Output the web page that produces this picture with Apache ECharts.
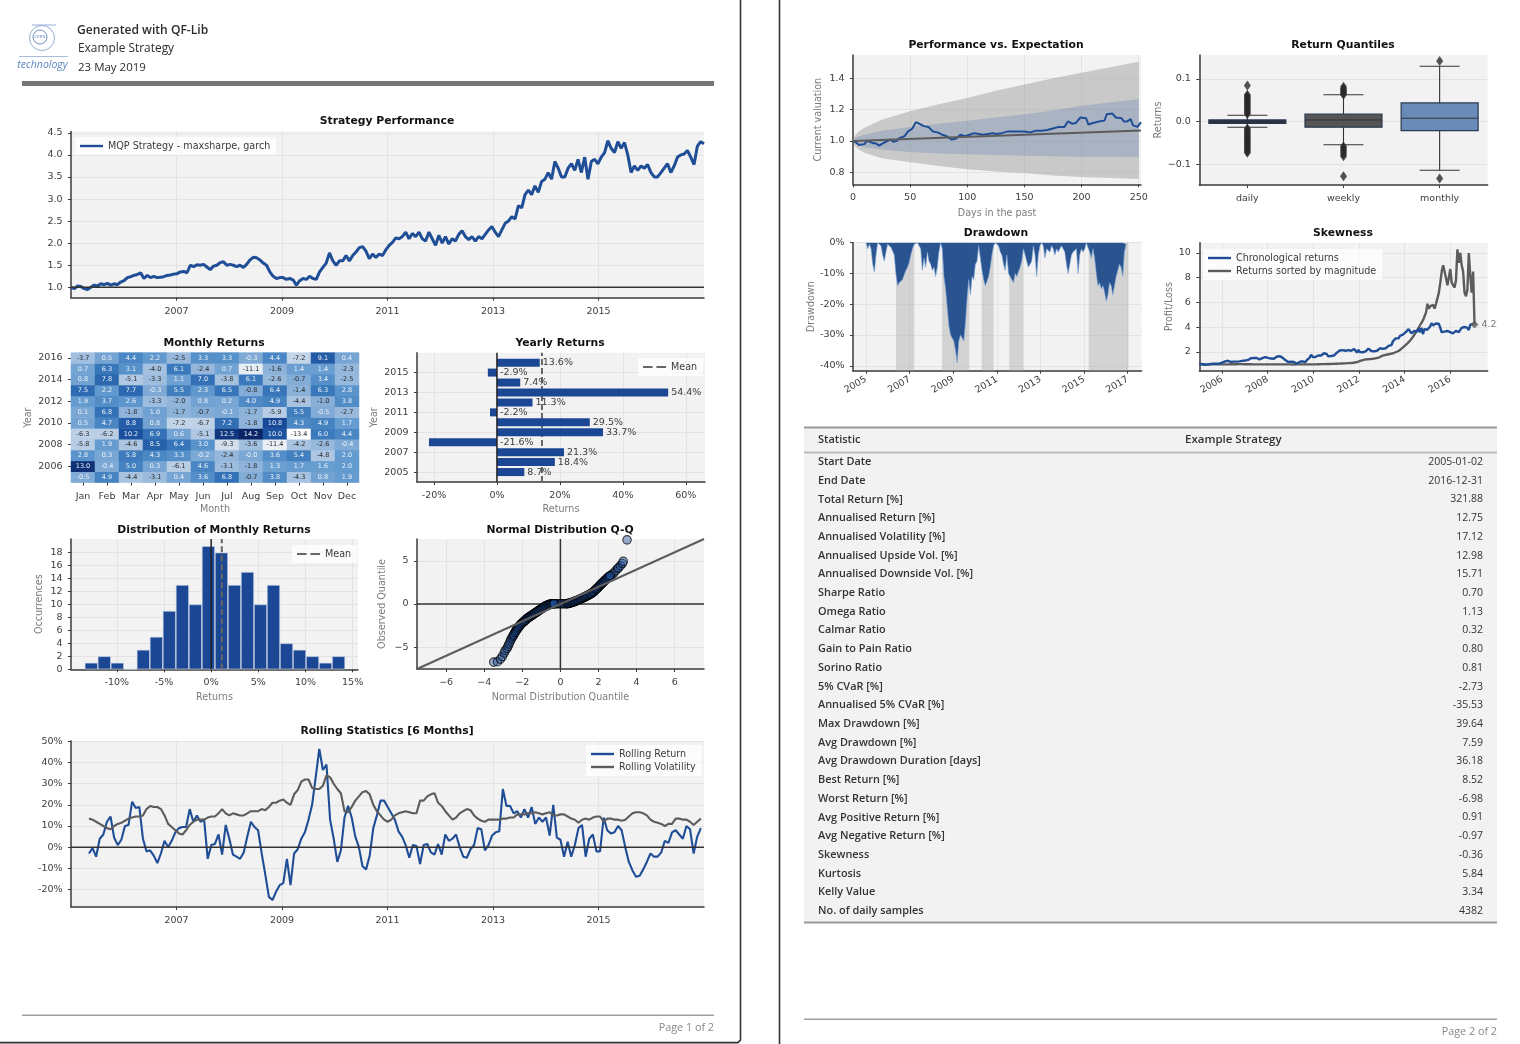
<!DOCTYPE html>
<html><head><meta charset="utf-8">
<style>html,body{margin:0;padding:0;background:#fff}#c{width:1520px;height:1044px;filter:blur(.45px)}</style>
<script src="https://cdn.jsdelivr.net/npm/echarts@6/dist/echarts.min.js"></script>
</head><body><div id="c"></div>
<script>
// ---------- DATA ----------
const strategyValues=[1.0,0.97,1.03,1.02,0.97,0.95,1.0,1.05,1.03,1.08,1.06,1.09,1.05,1.08,1.06,1.12,
1.15,1.22,1.24,1.27,1.29,1.33,1.20,1.27,1.22,1.25,1.22,1.23,1.24,1.27,1.28,1.30,
1.31,1.35,1.36,1.33,1.50,1.47,1.51,1.50,1.52,1.46,1.40,1.48,1.50,1.56,1.58,1.50,
1.52,1.50,1.47,1.50,1.45,1.52,1.62,1.68,1.67,1.62,1.55,1.50,1.35,1.25,1.20,1.22,
1.22,1.18,1.20,1.17,1.05,1.15,1.20,1.18,1.25,1.20,1.18,1.35,1.45,1.55,1.78,1.60,
1.50,1.60,1.60,1.72,1.60,1.72,1.80,1.90,1.92,1.82,1.65,1.75,1.68,1.75,1.72,1.85,
1.95,2.02,2.12,2.10,2.15,2.25,2.10,2.22,2.15,2.25,2.10,2.05,2.25,2.10,1.95,2.18,
2.00,2.15,1.98,2.10,2.05,2.20,2.28,2.15,2.08,2.15,2.05,2.15,2.10,2.20,2.30,2.38,
2.25,2.15,2.30,2.45,2.50,2.60,2.55,2.85,2.80,3.10,3.20,3.10,3.30,3.15,3.40,3.45,
3.60,3.45,3.85,3.70,3.50,3.50,3.70,3.80,3.65,3.90,3.60,3.95,3.45,3.85,3.90,3.80,
3.95,4.05,4.32,4.15,4.05,4.30,4.15,4.28,4.00,3.60,3.75,3.65,3.75,3.70,3.78,3.60,
3.50,3.50,3.60,3.70,3.80,3.60,3.75,3.95,4.00,4.02,4.10,3.95,3.78,4.20,4.30,4.25];
const yearTicks=[2007,2009,2011,2013,2015];
const months=['Jan','Feb','Mar','Apr','May','Jun','Jul','Aug','Sep','Oct','Nov','Dec'];
const heatYears=['2005','2006','2007','2008','2009','2010','2011','2012','2013','2014','2015','2016'];
const monthly2005=[-0.5,4.9,-4.4,-3.1,0.4,3.6,6.8,-0.7,3.8,-4.3,0.8,1.9];
const monthly2006=[13.0,-0.4,5.0,0.3,-6.1,4.6,-3.1,-1.8,1.3,1.7,1.6,2.0];
const monthly2007=[2.8,0.3,5.8,4.3,3.3,-0.2,-2.4,-0.04,3.6,5.4,-4.8,2.0];
const monthly2008=[-5.8,1.9,-4.6,8.5,6.4,3.0,-9.3,-3.6,-11.4,-4.2,-2.6,-0.4];
const monthly2009=[-6.3,-6.2,10.2,6.9,0.6,-5.1,12.5,14.2,10.0,-13.4,6.0,4.4];
const monthly2010=[0.5,4.7,8.8,0.8,-7.2,-6.7,7.2,-1.8,10.8,4.3,4.9,1.7];
const monthly2011=[0.1,6.8,-1.8,1.0,-1.7,-0.7,-0.1,-1.7,-5.9,5.5,-0.5,-2.7];
const monthly2012=[1.9,3.7,2.6,-3.3,-2.0,0.8,0.2,4.0,4.9,-4.4,-1.0,3.8];
const monthly2013=[7.5,2.2,7.7,-0.3,5.5,2.3,6.5,-0.8,6.4,-1.4,6.3,2.8];
const monthly2014=[0.8,7.8,-5.1,-3.3,1.1,7.0,-3.8,6.1,-2.6,-0.7,3.4,-2.5];
const monthly2015=[0.7,6.3,3.1,-4.0,6.1,-2.4,0.7,-11.1,-1.6,1.4,1.4,-2.3];
const monthly2016=[-3.7,0.5,4.4,2.2,-2.5,3.3,3.3,-0.3,4.4,-7.2,9.1,0.4];
const yearlyCats=[' ','2005','2006','2007','2008','2009','2010','2011','2012','2013','2014','2015','2016','  '];
const yearlyValues=[null,8.7,18.4,21.3,-21.6,33.7,29.5,-2.2,11.3,54.4,7.4,-2.9,13.6,null];
const yearlyMean=14.3;
const histCentres=[-12.71,-11.33,-9.95,-8.57,-7.19,-5.81,-4.43,-3.05,-1.67,-0.29,1.09,2.47,3.85,5.23,6.61,7.99,9.37,10.75,12.13,13.51];
const histCounts=[1,2,1,0,3,5,9,13,10,19,18,13,15,10,13,4,3,2,1,2];
const histMean=1.13;
const qqTheoretical=[-3.5,-3.3,-3.15,-3.05,-2.95,-2.9,-2.8,-2.75,-2.7,-2.65,-2.6,-2.55,-2.5,-2.45,-2.4,-2.35,-2.3,-2.25,-2.2,-2.15,-2.1,-2.0,-1.9,-1.8,-1.7,-1.6,-1.5,-1.4,-1.3,-1.2,-1.1,-1,-.9,-.8,-.7,-.6,-.5,-.4,-.3,-.2,-.1,0,.1,.2,.3,.4,.5,.6,.7,.8,.9,1,1.1,1.2,1.3,1.4,1.5,1.6,1.7,1.8,1.9,2,2.1,2.2,2.3,2.4,2.5,2.6,2.7,2.8,2.9,3,3.05,3.15,3.25,3.3,3.5];
const qqObserved=[-6.75,-6.7,-6.4,-6.1,-5.7,-5.4,-5.15,-4.9,-4.65,-4.4,-4.15,-3.95,-3.75,-3.55,-3.35,-3.15,-3.0,-2.85,-2.7,-2.55,-2.4,-2.2,-2.0,-1.8,-1.6,-1.45,-1.3,-1.15,-1.0,-.85,-.7,-.55,-.4,-.25,-.15,-.05,0,.02,.03,.03,.03,.03,.03,.03,.02,.05,.1,.18,.25,.33,.42,.52,.62,.72,.83,.95,1.07,1.2,1.35,1.55,1.75,1.97,2.2,2.42,2.65,2.85,3.05,3.25,3.4,3.6,3.85,4.1,4.2,4.45,4.7,4.95,7.45];
const qqDenseTheoretical=[-2.45,-2.38,-2.32,-2.27,-2.22,-2.17,-2.12,-2.06,-1.98,-1.93,-1.87,-1.82,-1.77,-1.72,-1.66,-1.62,-1.56,-1.52,-1.46,-1.42,-1.36,-1.32,-1.26,-1.22,-1.16,-1.12,-1.06,-1.02,-.96,-.92,-.86,-.82,-.76,-.72,-.66,-.62,-.56,-.52,-.46,-.42,-.36,-.32,.36,.42,.46,.52,.56,.62,.66,.72,.76,.82,.86,.92,.96,1.02,1.06,1.12,1.16,1.22,1.26,1.32,1.36,1.42,1.46,1.52,1.56,1.62,1.66,1.72,1.76,1.82,1.86,1.92,1.96,2.02,2.06,2.12,2.16,2.22,2.26,2.32,2.36,2.42,2.46,2.52,2.56,2.62];
const qqDenseObserved=[-3.6,-3.3,-3.1,-2.9,-2.75,-2.6,-2.45,-2.3,-2.15,-2.05,-1.95,-1.85,-1.7,-1.65,-1.55,-1.5,-1.4,-1.35,-1.25,-1.2,-1.1,-1.05,-.95,-.9,-.8,-.75,-.65,-.6,-.5,-.45,-.35,-.3,-.2,-.2,-.12,-.1,-.03,-.02,.01,.02,.03,.03,.04,.06,.08,.12,.15,.2,.22,.28,.31,.36,.4,.46,.5,.55,.6,.65,.7,.76,.8,.87,.92,.98,1.03,1.1,1.15,1.22,1.28,1.38,1.45,1.6,1.7,1.8,1.9,2.03,2.15,2.28,2.37,2.47,2.58,2.7,2.8,2.9,3.0,3.1,3.2,3.3];
const rollingReturn=[-3,-0.5,-4.5,4,6,12,14.5,4.5,1,3.5,10,10.5,21.5,18.5,19,4,-2,-1.5,-4,-7.5,-3,3,0,3,7,9,9.5,9.5,18,12,15,12,13,-5.5,1,1.5,6,-3.5,10.5,4,-3.5,-4.5,-5.5,-2.5,5,12,9.5,8,-3,-13,-23.5,-25,-21,-18,-17,-5.5,-18,-3,-1,4,7,13,20,33,46.5,36.5,39,13,4,-7,-1.5,14,19.5,14,5,0,-9,-10.5,-4,9,15,22,22,19,16,13,7.5,5,1,-5,1,0.5,-8,1,1.5,-2.5,-3.5,1.5,-3.5,6,3,4,6,0,-4.5,-5,-1,1,9,8.5,-1.5,1,5.5,7,7.5,27.5,19.5,19.5,16,17,14,18,14,19,11,14,12,14,5.5,20,4.5,3.5,-4.5,2.5,-4.5,1,9,10.5,-4.5,4,6,-2,-2,14,8,6.5,7,10,8,0,-7,-11,-14,-13.5,-10.5,-7,-3,-4.5,-4.5,-2.5,3,2,7,8,6,4,10,8.5,-3,5,9];
const rollingVolatility=[13.5,13,12,11,10,9,8.5,10,11,11.5,12.5,13.5,14,14.5,14.5,15,18,19.5,19,19,18,15,11,9.5,8,6.5,6,8,10.5,12,13,13,13,14,14.5,14.5,16,18,16,15,16,15.5,15,15,16,17,17,17,18,17.5,19,21,21,22,22.5,21,20,25,27,31,32,32,28,27.5,27.5,29,34,33,30,27.5,25.5,17,16.5,19,22,24,26,26.5,25,20,17,15,13,12,13,15,16,16.5,17,16.5,16,16,22,22,24,25,25.5,21,19.5,17,15,13,14,16,17,18,17.5,15,13.5,12.5,12,13,13,13,13,13.5,13.5,14,14,15.5,15.5,15.5,16,16,16.5,16,15.5,16,16.5,15,15,15.5,15.5,14.5,13.5,13,11.5,13,13.5,13,14,14.5,14.5,12,13.5,13.5,13,13,12.5,13,14.5,16,16.5,16.5,16,15,13,12,11.5,11,10,11,11,13.5,13.5,13,13,12,10.5,12,13.5];
const expDays=[0,1,2.5,5,10,25,50,75,100,125,150,175,200,225,250];
const outerUpper=[1,1.025,1.042,1.06,1.085,1.135,1.19,1.235,1.275,1.32,1.36,1.40,1.435,1.47,1.506];
const innerUpper=[1,1.012,1.02,1.03,1.04,1.065,1.09,1.11,1.13,1.15,1.17,1.195,1.225,1.245,1.268];
const innerLower=[1,.988,.98,.97,.96,.945,.93,.92,.915,.91,.905,.902,.90,.899,.898];
const outerLower=[1,.976,.96,.945,.925,.89,.865,.84,.82,.805,.795,.78,.77,.763,.757];
const perfDays=[0,3,5,10,12,15,18,20,23,26,30,33,35,38,41,45,48,52,55,58,62,66,70,74,78,82,86,90,94,98,102,106,110,114,118,122,126,130,135,140,145,150,155,160,165,170,175,180,185,188,192,195,199,204,206,210,215,220,222,227,230,235,237,240,243,245,249,252];
const perfValues=[1,.99,.975,.98,1,.995,.985,.985,.97,.985,1,1.01,.995,1,1.02,1.03,1.06,1.08,1.12,1.11,1.095,1.09,1.06,1.055,1.04,1.03,1.01,1.015,1.04,1.03,1.04,1.05,1.045,1.04,1.045,1.05,1.045,1.05,1.06,1.06,1.06,1.06,1.055,1.065,1.065,1.07,1.08,1.09,1.09,1.125,1.11,1.115,1.15,1.145,1.105,1.115,1.125,1.13,1.17,1.175,1.15,1.145,1.125,1.125,1.14,1.1,1.09,1.12];
const trendDays=[0,252];
const trendValues=[1,1.067];
const quantileCats=['daily','weekly','monthly'];
const boxStats=[[-0.013,-0.004,0,0.004,0.015],[-0.054,-0.013,0.004,0.018,0.063],[-0.114,-0.021,0.008,0.044,0.130]];
const boxColours=['#1f2f4b','#555555','#6a8ab8'];
const dailyOutliers=[.085,.063,.06,.057,.054,.051,.048,.045,.042,.039,.036,.033,.03,.027,.024,.021,.018,-.016,-.019,-.022,-.025,-.028,-.031,-.034,-.037,-.04,-.043,-.046,-.049,-.052,-.055,-.058,-.061,-.064,-.067,-.07,-.073];
const weeklyOutliers=[.082,.078,.075,.072,.069,.066,.063,-.058,-.061,-.065,-.069,-.073,-.077,-.081,-.128];
const monthlyOutliers=[.142,-.133];
const drawdownValues=[0,-2,-.5,-2,-7,-9.5,-4,0,0,-1,-4,-6,-3,-.5,-1,-1.5,-2,-4,-10,-14,-13,-12.5,-12,-10.5,-9,-8,-6.5,-4,-2,-.5,0,0,-1,-2,-9,-5,-8,-3,-6,-7,-9,-8,-11,-8,-3,0,-2,-11,-15,-21,-27,-30,-31,-32,-35,-39,-32,-30,-31,-32,-26,-18,-12,-17,-11,-12,-7,-6,-1,-1,-9,-12,-14,-14,-11,-8,-4,-1,0,0,-1,-3,-4,-7,-9,-4,-10,-11,-11,-13,-10,-11,-11,-8,-6,-2,-4,-6,-8,-8,-6,-1,-4,-11,-4,-1,0,-1,-5,-2,-2,-3,-1,-2,-4,-2,-3,-2,-1,-1,-3,-7,-10,-7,-4,-3,-3,-2,-10,-4,-2,-3,-2,0,0,-3,-5,-2,-5,-10,-14,-13,-15,-14,-16,-19,-17,-13,-14,-17,-14,-11,-9,-7,-8,-11,-3,-.5,0];
const recessionStart=[2006.37,2008.48,2010.30,2011.56,2015.21];
const recessionEnd=[2007.21,2009.73,2010.85,2012.22,2017.03];
const sortedReturns=[1,.98,1,.97,.97,.96,.98,1,1,1,1,1,1,1,1,1,
1,1,1,1,1,1.01,1.01,1.01,1.01,1.01,1.01,1.01,1.02,1.02,1.02,1.02,
1.01,1.01,1.01,1.01,1.01,1,1,1,1,1,1,1,1,1,1,1,
1,1,1,1,1,1,1,1,1,1,1,1,1,1,1,1,
1,1,.99,.99,1,1,1,1,1,1,1,1,1,1,1,1,
1,1,1,1.01,1.01,1.01,1.02,1.02,1.02,1.03,1.03,1.03,1.03,1.04,1.04,1.04,
1.05,1.05,1.06,1.06,1.07,1.08,1.08,1.09,1.1,1.1,1.11,1.12,1.13,1.15,1.17,1.2,
1.24,1.28,1.32,1.36,1.38,1.4,1.42,1.42,1.43,1.44,1.46,1.48,1.5,1.53,1.55,1.6,
1.68,1.72,1.75,1.78,1.8,1.82,1.85,1.88,1.9,1.95,2,2.05,2.1,2.2,2.3,2.4,
2.5,2.6,2.7,2.8,2.95,3.1,3.25,3.4,3.6,3.8,4,4.2,4.4,4.6,4.9,5.2,
5.9,5.5,5.7,5.6,5.8,5.5,5.9,5.8,6.8,7.6,8.5,9,8.9,8,7.4,8,
8.7,7.6,7.4,7.2,7.8,10.3,9.2,10,9,8.5,6.8,6.5,7,10,8.2,6.8,8.5,4.22];
const statNames=['Start Date','End Date','Total Return [%]','Annualised Return [%]','Annualised Volatility [%]','Annualised Upside Vol. [%]','Annualised Downside Vol. [%]','Sharpe Ratio','Omega Ratio','Calmar Ratio','Gain to Pain Ratio','Sorino Ratio','5% CVaR [%]','Annualised 5% CVaR [%]','Max Drawdown [%]','Avg Drawdown [%]','Avg Drawdown Duration [days]','Best Return [%]','Worst Return [%]','Avg Positive Return [%]','Avg Negative Return [%]','Skewness','Kurtosis','Kelly Value','No. of daily samples'];
const statValues=['2005-01-02','2016-12-31','321.88','12.75','17.12','12.98','15.71','0.70','1.13','0.32','0.80','0.81','-2.73','-35.53','39.64','7.59','36.18','8.52','-6.98','0.91','-0.97','-0.36','5.84','3.34','4382'];

// ---------- STYLE ----------
const BLUE='#1f4e96', GREY='#5c5c5c', AX='#3a3a3a', TXT='#3c3c3c', FF='DejaVu Sans', HF='Open Sans';
const pct=v=>v+'%', plain=v=>String(v);
const rect=(l,t,r,b)=>({left:l,top:t,width:r-l,height:b-t,show:true,backgroundColor:'#f2f2f2',borderWidth:0,containLabel:false});
const grids=[rect(71,131.5,704,297.7),rect(71,352.6,359,482.6),rect(417,352.7,705,482),rect(71,539,358,669.3),rect(417,539,704,669),rect(71,741,704,907),
 rect(853,55,1141,184.3),rect(1199.3,55,1487.7,185),rect(853,242.7,1141.7,370.7),rect(1199.3,242.7,1487.7,370.7)];
const LM=8.5;
function axisBase(g,o){return Object.assign({gridIndex:g,
 axisLine:{show:true,onZero:false,lineStyle:{color:AX,width:1.5}},
 axisTick:{show:true,length:3,lineStyle:{color:AX,width:1}},
 axisLabel:{color:TXT,fontFamily:FF,fontSize:9.5,margin:LM},
 splitLine:{show:true,lineStyle:{color:'#e3e3e3',width:1}},
 nameTextStyle:{color:'#7c7c7c',fontFamily:FF,fontSize:9.6},nameLocation:'middle'},o);}
function valAxis(g,min,max,ticks,fmt,o){const a=axisBase(g,Object.assign({type:'value',min,max},o||{}));
 a.axisLabel=Object.assign({},{color:TXT,fontFamily:FF,fontSize:9.5,margin:LM},{customValues:ticks,formatter:fmt||plain},(o&&o.axisLabel)||{});
 a.axisTick=Object.assign({},a.axisTick,{customValues:ticks});return a;}
const xAxes=[],yAxes=[],series=[],titles=[],legends=[];
function title(t,cx,cy){titles.push({text:t,left:cx,top:cy+1,textAlign:'center',textVerticalAlign:'middle',padding:0,textStyle:{fontFamily:FF,fontWeight:'bold',fontSize:10.8,color:'#111'}});}
const dashIcon='path://M0 0H10V2H0Z M14 0H24V2H14Z';
function legend(names,l,t){legends.push({data:names.map(n=>({name:n,icon:n==='Mean'?dashIcon:'rect'})),left:l,top:t,orient:'vertical',selectedMode:false,backgroundColor:'rgba(255,255,255,.75)',padding:[4,6,4,5],itemGap:3,itemWidth:23,itemHeight:2.4,textStyle:{fontFamily:FF,fontSize:9.6,color:TXT}});}
function line(name,g,data,color,width,extra){series.push(Object.assign({type:'line',name,xAxisIndex:g,yAxisIndex:g,data,symbol:'none',silent:true,animation:false,lineStyle:{color,width},itemStyle:{color}},extra||{}));}
const zip=(a,b)=>a.map((v,i)=>[v,b[i]]);
const span=(arr,a,b)=>arr.map((v,i)=>[a+(b-a)*i/(arr.length-1),v]);

// 0 strategy
title('Strategy Performance',387,120);
xAxes.push(valAxis(0,2005,2017,yearTicks));
yAxes.push(valAxis(0,0.765,4.53,[1,1.5,2,2.5,3,3.5,4,4.5],v=>v.toFixed(1)));
line('MQP Strategy - maxsharpe, garch',0,span(strategyValues,2005,2017),BLUE,3);
line('strategyBase',0,[[2005,1],[2017,1]],'#333',1.5);
legend(['MQP Strategy - maxsharpe, garch'],75,137);

// 1 heatmap
title('Monthly Returns',214,342);
const hiddenLine={show:false};
xAxes.push(axisBase(1,{type:'category',data:months,name:'Month',nameGap:22,axisLine:hiddenLine,splitLine:{show:false},
 axisTick:{show:true,length:3,alignWithLabel:true,interval:0,lineStyle:{color:AX}},
 axisLabel:{color:TXT,fontFamily:FF,fontSize:9.5,margin:LM,interval:0}}));
yAxes.push(axisBase(1,{type:'category',data:heatYears,name:'Year',nameGap:38,axisLine:hiddenLine,splitLine:{show:false},
 axisTick:{show:true,length:3,alignWithLabel:true,interval:i=>i%2===1,lineStyle:{color:AX}},
 axisLabel:{color:TXT,fontFamily:FF,fontSize:9.5,margin:LM,interval:i=>i%2===1}}));
const monthlyRows=[monthly2005,monthly2006,monthly2007,monthly2008,monthly2009,monthly2010,monthly2011,monthly2012,monthly2013,monthly2014,monthly2015,monthly2016];
const heatData=[];monthlyRows.forEach((r,y)=>r.forEach((v,x)=>heatData.push({value:[x,y,v],label:{color:v>-0.6?'#eaf1f8':'#2a2a2a'}})));
series.push({type:'heatmap',name:'monthly',xAxisIndex:1,yAxisIndex:1,data:heatData,silent:true,animation:false,
 label:{show:true,fontFamily:FF,fontSize:6.5,formatter:p=>p.value[2].toFixed(1)}});

// 2 yearly
title('Yearly Returns',560,342);
const oddRow=i=>i%2===1&&i<13;
xAxes.push(valAxis(2,-25.4,66.1,[-20,0,20,40,60],pct,{name:'Returns',nameGap:22}));
yAxes.push(axisBase(2,{type:'category',data:yearlyCats,boundaryGap:false,name:'Year',nameGap:38,
 axisTick:{show:true,length:3,interval:oddRow,lineStyle:{color:AX}},
 splitLine:{show:true,interval:oddRow,lineStyle:{color:'#e3e3e3'}},
 axisLabel:{color:TXT,fontFamily:FF,fontSize:9.5,margin:LM,interval:oddRow}}));
series.push({type:'bar',name:'yearly',xAxisIndex:2,yAxisIndex:2,data:yearlyValues,barWidth:8,silent:true,animation:false,z:3,
 itemStyle:{color:'#1b4795'},label:{show:true,position:'right',distance:3,fontFamily:FF,fontSize:9.5,color:TXT,formatter:p=>p.value==null?'':p.value.toFixed(1)+'%'}});
line('yearZero',2,[[0,0],[0,13]],'#222',1.5,{z:4});
line('Mean',2,[[yearlyMean,0],[yearlyMean,13]],'#666',2,{z:2,lineStyle:{color:'#666',width:2,type:[6,3]}});
legend(['Mean'],638,358);

// 3 histogram
title('Distribution of Monthly Returns',214,529);
xAxes.push(valAxis(3,-14.86,15.57,[-10,-5,0,5,10,15],pct,{name:'Returns',nameGap:23}));
yAxes.push(valAxis(3,0,20.1,[0,2,4,6,8,10,12,14,16,18],plain,{name:'Occurrences',nameGap:27}));
series.push({type:'bar',name:'hist',xAxisIndex:3,yAxisIndex:3,data:zip(histCentres,histCounts),barWidth:13,silent:true,animation:false,z:3,itemStyle:{color:'#1b4795',borderColor:'#cbd7ea',borderWidth:.6}});
line('histZero',3,[[0,0],[0,20.1]],'#222',1.5,{z:5});
line('Mean',3,[[histMean,0],[histMean,20.1]],'#666',2,{z:6,lineStyle:{color:'#666',width:2,type:[6,3]}});
legend(['Mean'],292,545);

// 4 QQ
title('Normal Distribution Q-Q',560,529);
const minusFmt=v=>String(v).replace('-','\u2212');
xAxes.push(valAxis(4,-7.53,7.54,[-6,-4,-2,0,2,4,6],minusFmt,{name:'Normal Distribution Quantile',nameGap:23}));
yAxes.push(valAxis(4,-7.55,7.55,[-5,0,5],minusFmt,{name:'Observed Quantile',nameGap:30}));
line('qqX',4,[[-7.53,0],[7.54,0]],'#333',1.5,{z:2});
line('qqY',4,[[0,-7.55],[0,7.55]],'#333',1.5,{z:2});
series.push({type:'scatter',name:'qq',xAxisIndex:4,yAxisIndex:4,data:zip(qqTheoretical,qqObserved).concat(zip(qqDenseTheoretical,qqDenseObserved)),symbolSize:8.5,silent:true,animation:false,z:3,itemStyle:{color:'rgba(31,78,150,.55)',borderColor:'rgba(0,0,0,.9)',borderWidth:1.1}});
line('qqFit',4,[[-7.53,-7.55],[7.54,7.55]],GREY,2,{z:4});

// 5 rolling
title('Rolling Statistics [6 Months]',387,730);
xAxes.push(valAxis(5,2005,2017,yearTicks));
yAxes.push(valAxis(5,-28.3,50.2,[-20,-10,0,10,20,30,40,50],pct));
line('Rolling Return',5,span(rollingReturn,2005.34,2016.94),BLUE,2.1,{z:3});
line('Rolling Volatility',5,span(rollingVolatility,2005.34,2016.94),GREY,2.1,{z:4});
line('rollZero',5,[[2005,0],[2017,0]],'#333',1.5,{z:5});
legend(['Rolling Return','Rolling Volatility'],586,745);

// 6 expectation
title('Performance vs. Expectation',996,44);
xAxes.push(valAxis(6,0,252,[0,50,100,150,200,250],plain,{name:'Days in the past',nameGap:24}));
yAxes.push(valAxis(6,0.7235,1.549,[.8,1,1.2,1.4],v=>v.toFixed(1),{name:'Current valuation',nameGap:30}));
series.push({type:'custom',name:'bands',xAxisIndex:6,yAxisIndex:6,silent:true,animation:false,z:1,data:[[0,1]],encode:{x:0,y:1},
 renderItem(p,api){
  const poly=(hi,lo,fill)=>({type:'polygon',shape:{points:expDays.map((d,i)=>api.coord([d,hi[i]])).concat(expDays.map((d,i)=>api.coord([d,lo[i]])).reverse())},style:{fill}});
  return {type:'group',children:[poly(outerUpper,outerLower,'rgba(150,150,150,.45)'),poly(innerUpper,innerLower,'rgba(60,100,170,.22)')]};}});
line('perf',6,zip(perfDays,perfValues),BLUE,2,{z:4});
line('trend',6,zip(trendDays,trendValues),GREY,2,{z:5});

// 7 quantiles
title('Return Quantiles',1343,44);
xAxes.push(axisBase(7,{type:'category',data:quantileCats,splitLine:{show:false},axisTick:{show:true,length:3,alignWithLabel:true,lineStyle:{color:AX}}}));
yAxes.push(valAxis(7,-0.1485,0.1563,[-.1,0,.1],v=>v.toFixed(1).replace('-','\u2212'),{name:'Returns',nameGap:28}));
series.push({type:'custom',name:'boxes',xAxisIndex:7,yAxisIndex:7,silent:true,animation:false,z:3,clip:false,
 data:boxStats.map((b,i)=>[i].concat(b)),encode:{x:0,y:[1,2,3,4,5]},
 renderItem(p,api){const i=api.value(0),c=k=>api.coord([i,api.value(k)]),x=c(1)[0];
  const st={stroke:'#333',lineWidth:1.1};
  const L=(x1,y1,x2,y2)=>({type:'line',shape:{x1,y1,x2,y2},style:st});
  const lo=c(1)[1],q1=c(2)[1],m=c(3)[1],q3=c(4)[1],hi=c(5)[1];
  return {type:'group',children:[L(x,lo,x,q1),L(x,q3,x,hi),L(x-20,lo,x+20,lo),L(x-20,hi,x+20,hi),
   {type:'rect',shape:{x:x-38.5,y:q3,width:77,height:q1-q3},style:{fill:boxColours[i],stroke:'#2a3a50',lineWidth:1.2}},L(x-38.5,m,x+38.5,m)]};}});
const outliers=[];[dailyOutliers,weeklyOutliers,monthlyOutliers].forEach((a,i)=>a.forEach(v=>outliers.push([i,v])));
series.push({type:'scatter',name:'outliers',xAxisIndex:7,yAxisIndex:7,data:outliers,symbol:'diamond',symbolSize:[7,10],silent:true,animation:false,z:4,itemStyle:{color:'#2a2a2a'}});

// 8 drawdown
title('Drawdown',996,232);
xAxes.push(valAxis(8,2004.4,2017.64,[2005,2007,2009,2011,2013,2015,2017],plain,{axisLabel:{rotate:30,margin:8}}));
yAxes.push(valAxis(8,-41.6,0,[-40,-30,-20,-10,0],pct,{name:'Drawdown',nameGap:37}));
line('recessions',8,[[2005,0]],'#000',0,{z:1,markArea:{silent:true,animation:false,itemStyle:{color:'rgba(170,170,170,.42)'},data:recessionStart.map((s,i)=>[{xAxis:s},{xAxis:recessionEnd[i]}])}});
line('drawdown',8,span(drawdownValues,2005,2017),'#7ea6d8',.6,{z:3,areaStyle:{color:'#26528f',opacity:.98}});

// 9 skew
title('Skewness',1343,232);
xAxes.push(valAxis(9,2005,2017.64,[2006,2008,2010,2012,2014,2016],plain,{axisLabel:{rotate:30,margin:8}}));
yAxes.push(valAxis(9,0.49,10.83,[2,4,6,8,10],plain,{name:'Profit/Loss',nameGap:25}));
line('Chronological returns',9,span(strategyValues,2005,2017),BLUE,2.4,{z:4});
line('Returns sorted by magnitude',9,sortedReturns.map((v,i)=>[2005+i/16,v]),GREY,2.4,{z:3});
series.push({type:'scatter',name:'skewEnd',xAxisIndex:9,yAxisIndex:9,data:[[2005+(sortedReturns.length-1)/16,4.22]],symbol:'diamond',symbolSize:8,silent:true,animation:false,z:6,clip:false,itemStyle:{color:GREY},
 label:{show:true,position:'right',distance:3,fontFamily:FF,fontSize:9.5,color:'#555',formatter:p=>p.value[1].toFixed(2)}});
legend(['Chronological returns','Returns sorted by magnitude'],1203,249);

// ---------- PAGE ----------
const g=[];
const T=(text,x,y,font,fill,align,z)=>g.push({type:'text',x,y,z:z||10,silent:true,style:{text,font,fill,textAlign:align||'left',textVerticalAlign:'middle'}});
const R=(x,y,w,h,fill,z)=>g.push({type:'rect',shape:{x,y,width:w,height:h},z:z===undefined?-1:z,silent:true,style:{fill}});
g.push({type:'polyline',z:20,silent:true,shape:{points:[[740.5,0],[740.5,1040],[738,1042.6],[0,1042.6]]},style:{stroke:'#333',lineWidth:1.6,fill:'none'}});
g.push({type:'line',z:20,silent:true,shape:{x1:779.5,y1:0,x2:779.5,y2:1044},style:{stroke:'#333',lineWidth:1.6}});
// header
g.push({type:'circle',z:5,silent:true,shape:{cx:40,cy:37,r:7},style:{fill:'none',stroke:'#6f8fc4',lineWidth:1}});
g.push({type:'circle',z:5,silent:true,shape:{cx:42,cy:38,r:12.5},style:{fill:'none',stroke:'#8aa4d0',lineWidth:.9}});
g.push({type:'line',z:5,silent:true,shape:{x1:32,y1:25,x2:56,y2:25},style:{stroke:'#8aa4d0',lineWidth:.9}});
g.push({type:'line',z:5,silent:true,shape:{x1:19,y1:56.5,x2:68,y2:56.5},style:{stroke:'#a9bddd',lineWidth:1}});
T('CERN',40,37,'4px "DejaVu Sans"','#6f8fc4','center');
T('technology',42.5,65.5,'italic 10.5px "Open Sans"','#5f86c0','center');
T('Generated with QF-Lib',77,31,'600 12.1px "Open Sans"','#2c2c2c');
T('Example Strategy',78,49,'500 11.9px "Open Sans"','#2c2c2c');
T('23 May 2019',78,67.5,'500 11.5px "Open Sans"','#2c2c2c');
R(22,81,692,5,'#777',5);
R(22,1014.5,692,1.5,'#a0a0a0',5);
T('Page 1 of 2',714,1028,'10.8px "Open Sans"','#888','right');
R(804,1018.5,693,1.5,'#a0a0a0',5);
T('Page 2 of 2',1497,1032,'10.8px "Open Sans"','#888','right');
// table
R(804,427,693,496,'#f2f2f2',1);
R(804,426.5,693,2,'#999',5);
R(804,451.5,693,2,'#bbb',5);
R(804,921.5,693,2,'#999',5);
T('Statistic',818,440,'600 11px "Open Sans"','#333');
T('Example Strategy',1185,440,'600 11.5px "Open Sans"','#333');
statNames.forEach((n,i)=>{const y=462+i*18.71;T(n,818,y,'600 10.9px "Open Sans"','#333');T(statValues[i],1483,y,'10.5px "Open Sans"','#333','right');});
// page-edge clip for the skewness end label
R(1497.5,312,22,30,'#fff',100);

const chart=echarts.init(document.getElementById('c'),null,{renderer:'canvas'});
chart.setOption({animation:false,backgroundColor:'#fff',tooltip:{show:false},
 grid:grids,xAxis:xAxes,yAxis:yAxes,title:titles,legend:legends,series,graphic:{elements:g},
 visualMap:[{show:false,type:'continuous',seriesIndex:series.findIndex(s=>s.name==='monthly'),dimension:2,min:-13.4,max:14.2,
  inRange:{color:['#ffffff','#d5e0ee','#b4cbe4','#8db2d9','#5f98ce','#3877ba','#1a4f9e','#0a2566']}}]});
</script></body></html>
